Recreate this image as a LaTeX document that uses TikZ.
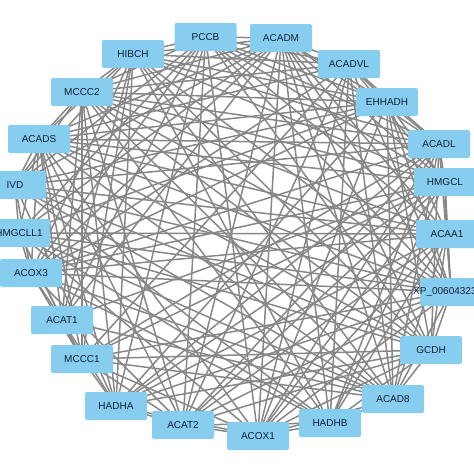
\documentclass[tikz,border=0pt]{standalone}
\usepackage{fontspec}
\setmainfont{Liberation Sans}
\definecolor{nodefill}{RGB}{135,205,240}
\definecolor{nodetext}{RGB}{20,30,55}
\definecolor{edgegray}{RGB}{135,135,135}
\begin{document}
\begin{tikzpicture}[x=1pt,y=-1pt,
  gene/.style={fill=nodefill,rounded corners=2pt,minimum width=62pt,minimum height=28pt,
    inner sep=0pt,text=nodetext,font=\fontsize{10}{12}\selectfont},
  link/.style={draw=edgegray,line width=1.5pt}]
\useasboundingbox (0,0) rectangle (474,474);
\clip (0,0) rectangle (474,474);
\coordinate (PCCB) at (205.5,37);
\coordinate (ACADM) at (281,38);
\coordinate (ACADVL) at (349,64);
\coordinate (EHHADH) at (387,102);
\coordinate (ACADL) at (439,144);
\coordinate (HMGCL) at (445,182);
\coordinate (ACAA1) at (447,234);
\coordinate (XP) at (451,292);
\coordinate (GCDH) at (431,350);
\coordinate (ACAD8) at (393,399);
\coordinate (HADHB) at (330,423);
\coordinate (ACOX1) at (258,436);
\coordinate (ACAT2) at (183,425);
\coordinate (HADHA) at (116,406);
\coordinate (MCCC1) at (82,359);
\coordinate (ACAT1) at (62,320);
\coordinate (ACOX3) at (31,273);
\coordinate (HMGCLL1) at (19,233);
\coordinate (IVD) at (15,185);
\coordinate (ACADS) at (39,139);
\coordinate (MCCC2) at (82,92);
\coordinate (HIBCH) at (133,54);
\foreach \a [count=\i] in {PCCB,ACADM,ACADVL,EHHADH,ACADL,HMGCL,ACAA1,XP,GCDH,ACAD8,HADHB,ACOX1,ACAT2,HADHA,MCCC1,ACAT1,ACOX3,HMGCLL1,IVD,ACADS,MCCC2,HIBCH}{
  \foreach \b [count=\j] in {PCCB,ACADM,ACADVL,EHHADH,ACADL,HMGCL,ACAA1,XP,GCDH,ACAD8,HADHB,ACOX1,ACAT2,HADHA,MCCC1,ACAT1,ACOX3,HMGCLL1,IVD,ACADS,MCCC2,HIBCH}{
    \ifnum\i<\j
      \pgfmathtruncatemacro{\h}{mod(\i*\i*3+\j*\j*5+\i*\j*7+\i+2*\j,23)}
      \pgfmathtruncatemacro{\d}{\j-\i}
      \ifnum\h<16 \draw[link] (\a) -- (\b);
      \else\ifnum\d<3 \draw[link] (\a) -- (\b);\fi\fi
    \fi
  }
}
\node[gene] (nPCCB) at (PCCB) {PCCB};
\node[gene] (nACADM) at (ACADM) {ACADM};
\node[gene] (nACADVL) at (ACADVL) {ACADVL};
\node[gene] (nEHHADH) at (EHHADH) {EHHADH};
\node[gene] (nACADL) at (ACADL) {ACADL};
\node[gene] (nHMGCL) at (HMGCL) {HMGCL};
\node[gene] (nACAA1) at (ACAA1) {ACAA1};
\node[gene] (nXP) at (XP) {};
\node[anchor=west,inner sep=0pt,text=nodetext,font=\fontsize{10}{12}\selectfont] (tXP) at (413,292) {XP\_00604323};
\node[gene] (nGCDH) at (GCDH) {GCDH};
\node[gene] (nACAD8) at (ACAD8) {ACAD8};
\node[gene] (nHADHB) at (HADHB) {HADHB};
\node[gene] (nACOX1) at (ACOX1) {ACOX1};
\node[gene] (nACAT2) at (ACAT2) {ACAT2};
\node[gene] (nHADHA) at (HADHA) {HADHA};
\node[gene] (nMCCC1) at (MCCC1) {MCCC1};
\node[gene] (nACAT1) at (ACAT1) {ACAT1};
\node[gene] (nACOX3) at (ACOX3) {ACOX3};
\node[gene] (nHMGCLL1) at (HMGCLL1) {HMGCLL1};
\node[gene] (nIVD) at (IVD) {IVD};
\node[gene] (nACADS) at (ACADS) {ACADS};
\node[gene] (nMCCC2) at (MCCC2) {MCCC2};
\node[gene] (nHIBCH) at (HIBCH) {HIBCH};
\end{tikzpicture}
\end{document}
